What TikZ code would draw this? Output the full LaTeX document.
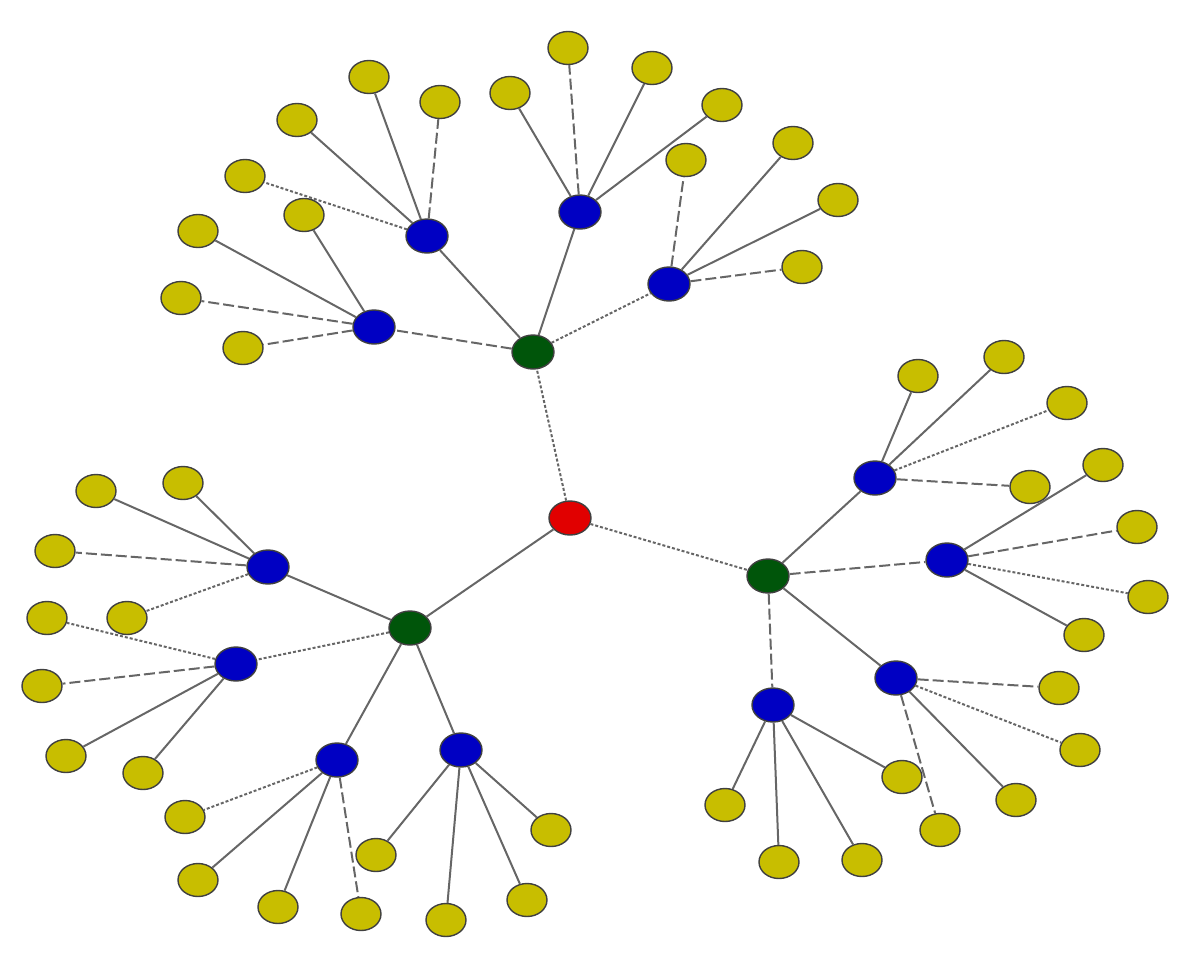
\documentclass[tikz,border=0pt]{standalone}
\usetikzlibrary{shapes.geometric}
\definecolor{lf}{RGB}{200,190,0}
\definecolor{bl}{RGB}{0,0,195}
\definecolor{gn}{RGB}{0,85,10}
\definecolor{rr}{RGB}{225,0,0}
\begin{document}
\begin{tikzpicture}[x=1pt,y=-1pt,
 nd/.style={ellipse,draw=black!75,line width=1.4pt,minimum width=40pt,minimum height=33pt,inner sep=0pt},
 leaf/.style={nd,fill=lf},
 blu/.style={nd,fill=bl,minimum width=42pt,minimum height=34pt},
 grn/.style={nd,fill=gn,minimum width=42pt,minimum height=34pt},
 rd/.style={nd,fill=rr,minimum width=42pt,minimum height=34pt},
 sl/.style={draw=black!60,line width=2pt},
 dl/.style={draw=black!60,line width=2pt,dash pattern=on 11pt off 4pt},
 ol/.style={draw=black!60,line width=2pt,dash pattern=on 3pt off 2pt}]
\useasboundingbox (0,0) rectangle (1192,967);
\node[rd] (r) at (570,518) {};
\node[grn] (g1) at (533,352) {};
\node[grn] (g2) at (768,576) {};
\node[grn] (g3) at (410,628) {};
\draw[ol] (r) -- (g1); \draw[ol] (r) -- (g2); \draw[sl] (r) -- (g3);
\foreach \n/\g/\x/\y/\st in {b1/g1/427/236/sl, b2/g1/580/212/sl, b3/g1/669/284/ol, b4/g1/374/327/dl,
 b5/g2/875/478/sl, b6/g2/947/560/dl, b7/g2/896/678/sl, b8/g2/773/705/dl,
 b9/g3/268/567/sl, b10/g3/236/664/ol, b11/g3/337/760/sl, b12/g3/461/750/sl}{
 \node[blu] (\n) at (\x,\y) {};
 \draw[\st] (\g) -- (\n);
}
\foreach \b/\i/\x/\y/\st in {
 b1/1/297/120/sl, b1/2/369/77/sl, b1/3/440/102/dl, b1/4/245/176/ol,
 b2/1/510/93/sl, b2/2/568/48/dl, b2/3/652/68/sl, b2/4/722/105/sl,
 b3/1/686/160/dl, b3/2/793/143/sl, b3/3/838/200/sl, b3/4/802/267/dl,
 b4/1/198/231/sl, b4/2/304/215/sl, b4/3/181/298/dl, b4/4/243/348/dl,
 b5/1/918/376/sl, b5/2/1004/357/sl, b5/3/1067/403/ol, b5/4/1030/487/dl,
 b6/1/1103/465/sl, b6/2/1137/527/dl, b6/3/1148/597/ol, b6/4/1084/635/sl,
 b7/1/1059/688/dl, b7/2/1080/750/ol, b7/3/1016/800/sl, b7/4/940/830/dl,
 b8/1/725/805/sl, b8/2/779/862/sl, b8/3/862/860/sl, b8/4/902/777/sl,
 b9/1/96/491/sl, b9/2/183/483/sl, b9/3/55/551/dl, b9/4/127/618/ol,
 b10/1/47/618/ol, b10/2/42/686/dl, b10/3/66/756/sl, b10/4/143/773/sl,
 b11/1/185/817/ol, b11/2/198/880/sl, b11/3/278/907/sl, b11/4/361/914/dl,
 b12/1/376/855/sl, b12/2/446/920/sl, b12/3/527/900/sl, b12/4/551/830/sl}{
 \node[leaf] (\b l\i) at (\x,\y) {};
 \draw[\st] (\b) -- (\b l\i);
}
\end{tikzpicture}
\end{document}
